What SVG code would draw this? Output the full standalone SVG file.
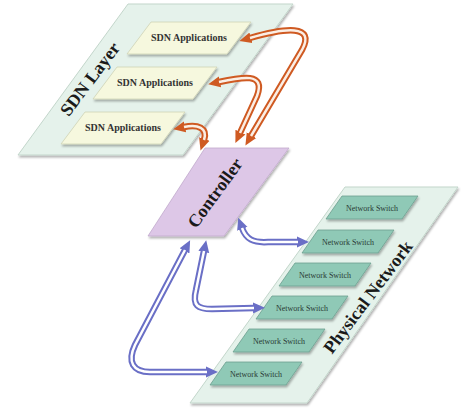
<svg xmlns="http://www.w3.org/2000/svg" width="474" height="410" viewBox="0 0 474 410">
<defs>
<filter id="sh" x="-10%" y="-10%" width="130%" height="140%"><feDropShadow dx="1" dy="2" stdDeviation="1" flood-color="#000" flood-opacity="0.3"/></filter>
<marker id="ao" viewBox="0 -7 13 14" refX="1" refY="0" markerWidth="13" markerHeight="14" markerUnits="userSpaceOnUse" orient="auto-start-reverse"><path d="M0,-5.5 L12,0 L0,5.5 z" fill="#cf5a22"/></marker>
<marker id="ab" viewBox="0 -7 13 14" refX="1" refY="0" markerWidth="13" markerHeight="14" markerUnits="userSpaceOnUse" orient="auto-start-reverse"><path d="M0,-5.5 L12,0 L0,5.5 z" fill="#6a6fc6"/></marker>
</defs>
<style>
.plane{fill:#e5f2eb;stroke:#c3d6cb;stroke-width:1}
.app{fill:#f6f8de;stroke:#cfd3b5;stroke-width:0.8}
.sw{fill:#8fc9b6;stroke:#6c9e8f;stroke-width:0.8}
.ctl{fill:#ddc7e7;stroke:#c2aacd;stroke-width:0.8}
.big{font-family:"Liberation Serif",serif;font-weight:bold;font-size:18px;fill:#1a1a1a;text-anchor:middle}
.t1{font-family:"Liberation Serif",serif;font-size:10px;fill:#333;text-anchor:middle;font-weight:bold}
.t2{font-family:"Liberation Serif",serif;font-size:8px;fill:#2a3a35;text-anchor:middle}
.oo{fill:none;stroke:#cf5a22;stroke-width:6.5;marker-start:url(#ao);marker-end:url(#ao)}
.oi{fill:none;stroke:#fbeee4;stroke-width:2.5}
.bo{fill:none;stroke:#6a6fc6;stroke-width:6.5;marker-start:url(#ab);marker-end:url(#ab)}
.bi{fill:none;stroke:#ffffff;stroke-width:2.5}
</style>
<g id="sdn-layer">
<polygon class="plane" filter="url(#sh)" points="128,4 293,4 183,155 18,155"/>
<text class="big" transform="translate(90,79) rotate(-53)" dy="6">SDN Layer</text>
</g>
<g id="app1"><polygon class="app" filter="url(#sh)" points="151,22 251,22 227,54 127,54"/><text class="t1" x="189" y="41">SDN Applications</text></g>
<g id="app2"><polygon class="app" filter="url(#sh)" points="117,67 217,67 193,99 93,99"/><text class="t1" x="155" y="86">SDN Applications</text></g>
<g id="app3"><polygon class="app" filter="url(#sh)" points="85,112 185,112 161,144 61,144"/><text class="t1" x="123" y="131">SDN Applications</text></g>
<g id="physical-network">
<polygon class="plane" filter="url(#sh)" points="345,187 458,187 307,403 190,403"/>
<text class="big" transform="translate(368,297) rotate(-53)" dy="6" font-size="19">Physical Network</text>
</g>
<g id="sw1"><polygon class="sw" filter="url(#sh)" points="342,196 418,196 402,219 326,219"/><text class="t2" x="372" y="211">Network Switch</text></g>
<g id="sw2"><polygon class="sw" filter="url(#sh)" points="318,230 394,230 378,253 302,253"/><text class="t2" x="348" y="245">Network Switch</text></g>
<g id="sw3"><polygon class="sw" filter="url(#sh)" points="295,263 371,263 355,286 279,286"/><text class="t2" x="325" y="278">Network Switch</text></g>
<g id="sw4"><polygon class="sw" filter="url(#sh)" points="272,296 348,296 332,319 256,319"/><text class="t2" x="302" y="311">Network Switch</text></g>
<g id="sw5"><polygon class="sw" filter="url(#sh)" points="249,329 325,329 309,352 233,352"/><text class="t2" x="279" y="344">Network Switch</text></g>
<g id="sw6"><polygon class="sw" filter="url(#sh)" points="226,362 302,362 286,385 210,385"/><text class="t2" x="256" y="377">Network Switch</text></g>
<g id="controller">
<polygon class="ctl" filter="url(#sh)" points="205,148 289,148 224,236 148,236"/>
<text class="big" transform="translate(215,193) rotate(-54)" dy="6">Controller</text>
</g>
<g id="connectors">
<path class="oo" d="M250,38 C285,28 316,24 302,50 L251,136"/>
<path class="oi" d="M250,38 C285,28 316,24 302,50 L251,136"/>
<path class="oo" d="M219,82 C242,77 266,72 257,96 L240,133"/>
<path class="oi" d="M219,82 C242,77 266,72 257,96 L240,133"/>
<path class="oo" d="M184,127 C198,124 208,128 204,140"/>
<path class="oi" d="M184,127 C198,124 208,128 204,140"/>
<path class="bo" d="M242,228 C246,239 253,243 268,242 L298,242"/>
<path class="bi" d="M242,228 C246,239 253,243 268,242 L298,242"/>
<path class="bo" d="M204,251 L196,290 C192,306 198,309 212,309 L254,308"/>
<path class="bi" d="M204,251 L196,290 C192,306 198,309 212,309 L254,308"/>
<path class="bo" d="M185,250 L135,345 C127,362 133,372 150,372 L207,372"/>
<path class="bi" d="M185,250 L135,345 C127,362 133,372 150,372 L207,372"/>
</g>
</svg>
